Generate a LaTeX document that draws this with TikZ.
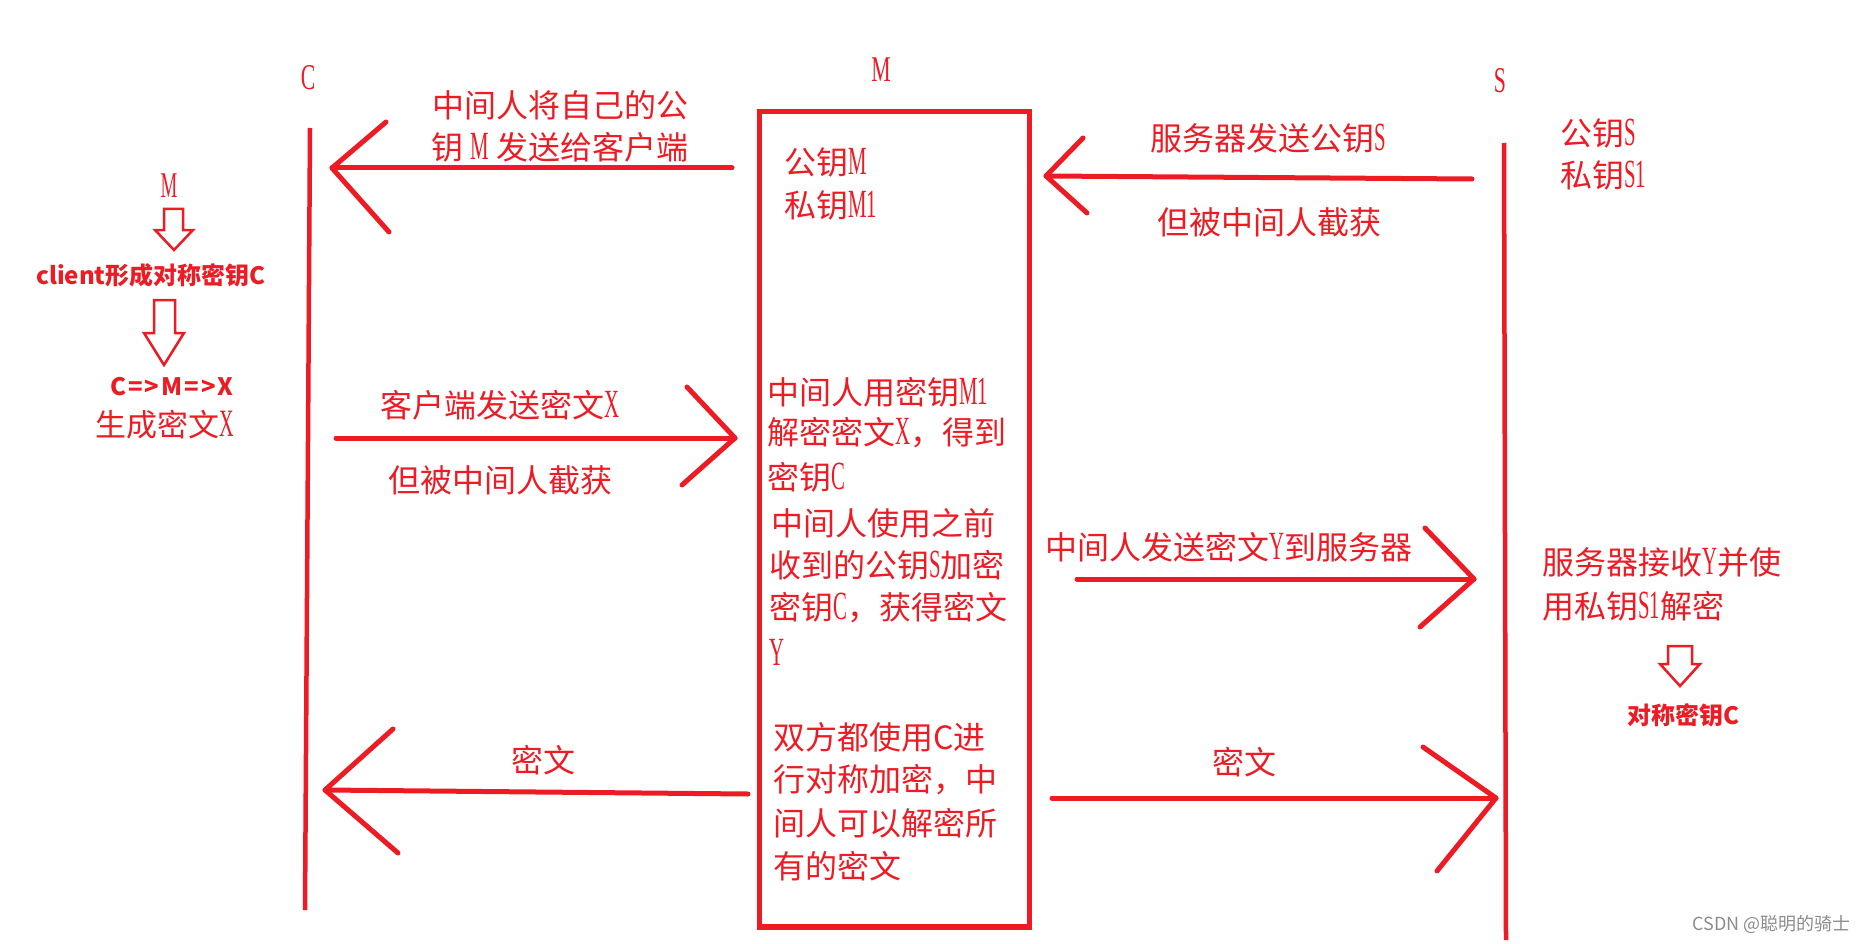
\documentclass[tikz,border=0pt]{standalone}
\usepackage{fontspec}
\setmainfont{Liberation Serif}
\newfontfamily\cjk{Noto Sans CJK SC}
\newfontfamily\lat[Scale=1.25,FakeStretch=0.52]{Liberation Serif}
\newfontfamily\tlat[Scale=1.25,FakeStretch=0.6]{Liberation Serif}
\newcommand\la[1]{{\lat #1}}
\definecolor{pr}{RGB}{237,28,36}
\begin{document}
\begin{tikzpicture}[x=1pt,y=-1pt,
  lbl/.style={text=pr, inner sep=0pt, anchor=west, font=\cjk\fontsize{32}{40}\selectfont},
  clbl/.style={lbl, anchor=center},
  bld/.style={text=pr, inner sep=0pt, anchor=center, font=\cjk\bfseries\fontsize{24}{30}\selectfont},
  ttl/.style={text=pr, inner sep=0pt, anchor=center, font=\tlat\fontsize{29}{34}\selectfont},
  arr/.style={draw=pr, line width=5pt, line cap=round, line join=round},
  life/.style={draw=pr, line width=4.5pt},
  hol/.style={draw=pr, line width=2.5pt, line join=miter}]
\useasboundingbox (0,0) rectangle (1865,944);

% titles
\node[ttl] (tc) at (308,78) {C};
\node[ttl] (tm) at (881,70) {M};
\node[ttl] (ts) at (1500,81) {S};

% lifelines
\coordinate (c1) at (310,128); \coordinate (c2) at (305,910);
\coordinate (s1) at (1504,143); \coordinate (s2) at (1506,940);
\draw[life] (c1) -- (c2);
\draw[life] (s1) -- (s2);

% middle box
\draw[draw=pr, line width=5.5pt] (759.5,111.5) rectangle (1029.5,927);

% arrow 1: M -> C
\coordinate (a1s) at (732,168); \coordinate (a1t) at (332,168);
\coordinate (a1u) at (386,122); \coordinate (a1d) at (389,232);
\draw[arr] (a1s) -- (a1t);
\draw[arr] (a1u) -- (a1t) -- (a1d);
\node[lbl] (t1a) at (432,105) {中间人将自己的公};
\node[lbl] (t1b) at (431,147) {钥 \la{M} 发送给客户端};

% box texts top
\node[lbl] (ba) at (784,162) {公钥\la{M}};
\node[lbl] (bb) at (784,205) {私钥\la{M1}};

% arrow 2: S -> M
\coordinate (a2s) at (1472,179); \coordinate (a2t) at (1046,176);
\coordinate (a2u) at (1083,138); \coordinate (a2d) at (1087,213);
\draw[arr] (a2s) -- (a2t);
\draw[arr] (a2u) -- (a2t) -- (a2d);
\node[lbl] (t2a) at (1150,138) {服务器发送公钥\la{S}};
\node[lbl] (t2b) at (1157,222) {但被中间人截获};

% server keys
\node[lbl] (sa) at (1560,133) {公钥\la{S}};
\node[lbl] (sb) at (1560,175) {私钥\la{S1}};

% left column
\node[ttl, font=\lat\fontsize{29}{34}\selectfont] (lm) at (169,186) {M};
\draw[hol] (164,209) -- (183,209) -- (183,230) -- (193,230) -- (174,250) -- (155,230) -- (164,230) -- cycle;
\node[bld] (lc) at (151,275) {client形成对称密钥C};
\draw[hol] (154,300) -- (175,300) -- (175,333) -- (184,333) -- (164,365) -- (144,333) -- (154,333) -- cycle;
\node[bld] (lx) at (172,387) {C\hspace{2pt}=\hspace{2pt}>\hspace{2pt}M\hspace{2pt}=\hspace{2pt}>\hspace{2pt}X};
\node[lbl, font=\cjk\fontsize{31}{40}\selectfont] (ly) at (95,425) {生成密文\la{X}};

% arrow 3: C -> M
\coordinate (a3s) at (336,438); \coordinate (a3t) at (735,438);
\coordinate (a3u) at (687,387); \coordinate (a3d) at (682,485);
\draw[arr] (a3s) -- (a3t);
\draw[arr] (a3u) -- (a3t) -- (a3d);
\node[lbl] (t3a) at (380,405) {客户端发送密文\la{X}};
\node[lbl] (t3b) at (388,480) {但被中间人截获};

% box texts middle
\node[lbl] (m1) at (767,392) {中间人用密钥\la{M1}};
\node[lbl] (m2) at (767,433) {解密密文\la{X}，得到};
\node[lbl] (m3) at (767,477) {密钥\la{C}};
\node[lbl] (m4) at (771,523) {中间人使用之前};
\node[lbl] (m5) at (769,565) {收到的公钥\la{S}加密};
\node[lbl] (m6) at (769,608) {密钥\la{C}，获得密文};
\node[lbl] (m7) at (769,652) {\la{Y}};

% arrow 4: M -> S
\coordinate (a4s) at (1077,579); \coordinate (a4t) at (1474,579);
\coordinate (a4u) at (1425,528); \coordinate (a4d) at (1420,627);
\draw[arr] (a4s) -- (a4t);
\draw[arr] (a4u) -- (a4t) -- (a4d);
\node[lbl] (t4) at (1045,547) {中间人发送密文\la{Y}到服务器};

% server side
\node[lbl] (r1) at (1542,562) {服务器接收\la{Y}并使};
\node[lbl] (r2) at (1542,606) {用私钥\la{S1}解密};
\draw[hol] (1668,646) -- (1692,646) -- (1692,664) -- (1700,664) -- (1680,686) -- (1660,664) -- (1668,664) -- cycle;
\node[bld] (rc) at (1683,715) {对称密钥C};

% box texts bottom
\node[lbl] (n1) at (773,737) {双方都使用C进};
\node[lbl] (n2) at (773,780) {行对称加密，中};
\node[lbl] (n3) at (773,823) {间人可以解密所};
\node[lbl] (n4) at (773,866) {有的密文};

% arrow 5: M -> C (bottom)
\coordinate (a5s) at (748,794); \coordinate (a5t) at (325,790);
\coordinate (a5u) at (393,729); \coordinate (a5d) at (398,853);
\draw[arr] (a5s) -- (a5t);
\draw[arr] (a5u) -- (a5t) -- (a5d);
\node[clbl] (t5) at (543,760) {密文};

% arrow 6: M -> S (bottom)
\coordinate (a6s) at (1052,798); \coordinate (a6t) at (1496,798);
\coordinate (a6u) at (1423,747); \coordinate (a6d) at (1437,871);
\draw[arr] (a6s) -- (a6t);
\draw[arr] (a6u) -- (a6t) -- (a6d);
\node[clbl] (t6) at (1244,762) {密文};

% watermark
\node[inner sep=0pt, anchor=east, text=black!45, font=\cjk\fontsize{18}{22}\selectfont] (wm) at (1851,924) {CSDN @聪明的骑士};
\end{tikzpicture}
\end{document}
